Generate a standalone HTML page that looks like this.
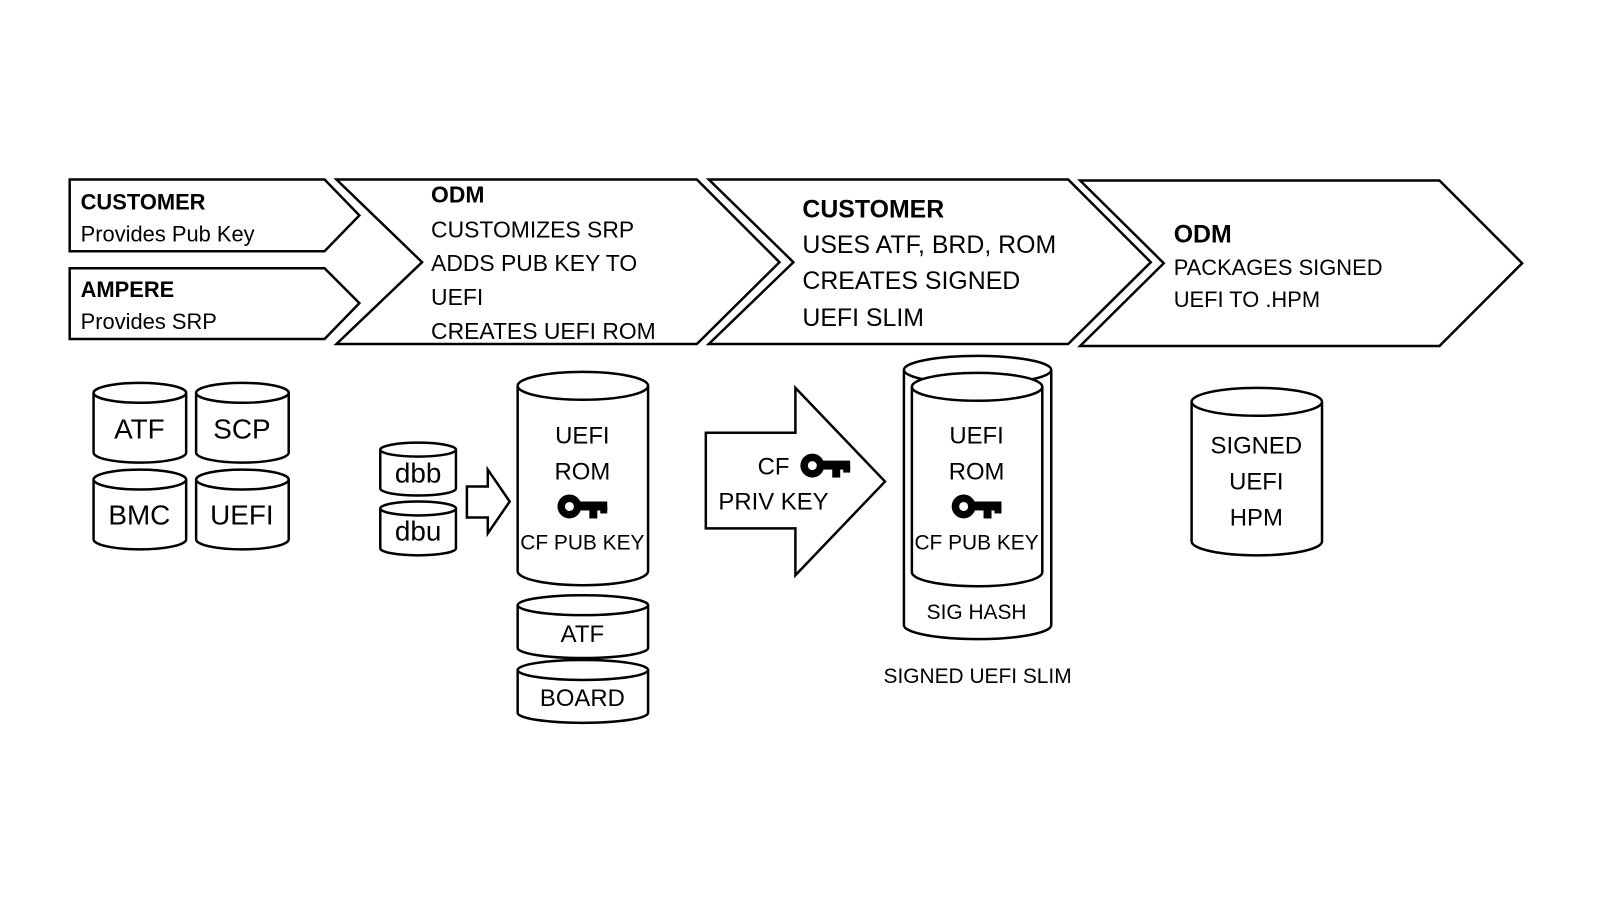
<!DOCTYPE html>
<html><head><meta charset="utf-8"><style>
html,body{margin:0;padding:0;background:#fff;}
svg{display:block;}
text{font-family:"Liberation Sans",sans-serif;fill:#000;}
</style></head><body>
<svg width="1600" height="900" viewBox="0 0 1600 900" xmlns="http://www.w3.org/2000/svg">
<defs>
<g id="key">
  <circle cx="0" cy="0" r="12" fill="#000"/>
  <circle cx="0" cy="0" r="4.5" fill="#fff"/>
  <rect x="8" y="-5" width="30" height="9" fill="#000"/>
  <rect x="20" y="0" width="8" height="12" fill="#000"/>
  <rect x="31" y="0" width="7" height="7" fill="#000"/>
</g>
</defs>
<g transform="scale(0.9955 0.997)">
<g fill="#fff" stroke="#000" stroke-width="2.5" stroke-linejoin="miter">
  <polygon points="70,180 326,180 361,216 326,252 70,252"/>
  <polygon points="70,269 326,269 361,304 326,340 70,340"/>
  <polygon points="338,180 700,180 783,263 700,345 338,345 424,263"/>
  <polygon points="712,180 1073,180 1156,263 1073,345 712,345 797,263"/>
  <polygon points="1085,181 1446,181 1529,264 1446,347 1085,347 1169,264"/>
</g>
<g font-size="22">
  <text x="81" y="210" font-weight="bold">CUSTOMER</text>
  <text x="81" y="242">Provides Pub Key</text>
  <text x="81" y="298" font-weight="bold">AMPERE</text>
  <text x="81" y="330">Provides SRP</text>
</g>
<g font-size="23">
  <text x="433" y="203" font-weight="bold">ODM</text>
  <text x="433" y="238">CUSTOMIZES SRP</text>
  <text x="433" y="272">ADDS PUB KEY TO</text>
  <text x="433" y="306">UEFI</text>
  <text x="433" y="340">CREATES UEFI ROM</text>
</g>
<g font-size="25">
  <text x="806" y="218" font-weight="bold">CUSTOMER</text>
  <text x="806" y="254">USES ATF, BRD, ROM</text>
  <text x="806" y="290">CREATES SIGNED</text>
  <text x="806" y="327">UEFI SLIM</text>
</g>
<g font-size="22">
  <text x="1179" y="243" font-size="25" font-weight="bold">ODM</text>
  <text x="1179" y="276">PACKAGES SIGNED</text>
  <text x="1179" y="308">UEFI TO .HPM</text>
</g>

<g fill="#fff" stroke="#000" stroke-width="2.5">
  <path d="M94,394 L94,454 A46.5,10 0 0 0 187,454 L187,394"/><ellipse cx="140.5" cy="394" rx="46.5" ry="10"/>
  <path d="M197,394 L197,454 A46.5,10 0 0 0 290,454 L290,394"/><ellipse cx="243.5" cy="394" rx="46.5" ry="10"/>
  <path d="M94,481 L94,541 A46.5,10 0 0 0 187,541 L187,481"/><ellipse cx="140.5" cy="481" rx="46.5" ry="10"/>
  <path d="M197,481 L197,541 A46.5,10 0 0 0 290,541 L290,481"/><ellipse cx="243.5" cy="481" rx="46.5" ry="10"/>
  <path d="M382,451 L382,490 A38,7 0 0 0 458,490 L458,451"/><ellipse cx="420" cy="451" rx="38" ry="7"/>
  <path d="M382,510 L382,550 A38,7 0 0 0 458,550 L458,510"/><ellipse cx="420" cy="510" rx="38" ry="7"/>
  <polygon points="469,488 490,488 490,471 512,503 490,535 490,519 469,519"/>
  <path d="M520,387 L520,573 A65.5,14 0 0 0 651,573 L651,387"/><ellipse cx="585.5" cy="387" rx="65.5" ry="14"/>
  <path d="M520,607 L520,650 A65.5,10 0 0 0 651,650 L651,607"/><ellipse cx="585.5" cy="607" rx="65.5" ry="10"/>
  <path d="M520,672 L520,715 A65.5,10 0 0 0 651,715 L651,672"/><ellipse cx="585.5" cy="672" rx="65.5" ry="10"/>
  <polygon points="709,434 799,434 799,389 889,483 799,577 799,530 709,530"/>
  <path d="M908,371 L908,627 A74,14 0 0 0 1056,627 L1056,371"/><ellipse cx="982" cy="371" rx="74" ry="14"/>
  <path d="M916,388 L916,574 A65.5,14 0 0 0 1047,574 L1047,388"/><ellipse cx="981.5" cy="388" rx="65.5" ry="14"/>
  <path d="M1197,403 L1197,543 A65.5,14 0 0 0 1328,543 L1328,403"/><ellipse cx="1262.5" cy="403" rx="65.5" ry="14"/>
</g>
<g font-size="28" text-anchor="middle">
  <text x="140" y="440">ATF</text>
  <text x="243" y="440">SCP</text>
  <text x="140" y="526">BMC</text>
  <text x="243" y="526">UEFI</text>
  <text x="420" y="484">dbb</text>
  <text x="420" y="542">dbu</text>
</g>
<g font-size="24" text-anchor="middle">
  <text x="585" y="445">UEFI</text>
  <text x="585" y="481">ROM</text>
  <text x="585" y="551" font-size="21">CF PUB KEY</text>
  <text x="585" y="644">ATF</text>
  <text x="585" y="708">BOARD</text>
  <text x="981" y="445">UEFI</text>
  <text x="981" y="481">ROM</text>
  <text x="981" y="551" font-size="21">CF PUB KEY</text>
  <text x="981" y="621" font-size="21">SIG HASH</text>
  <text x="982" y="685" font-size="21">SIGNED UEFI SLIM</text>
  <text x="1262" y="455">SIGNED</text>
  <text x="1262" y="491">UEFI</text>
  <text x="1262" y="527">HPM</text>
  <text x="777" y="476">CF</text>
  <text x="777" y="511">PRIV KEY</text>
</g>
<use href="#key" x="572" y="508"/>
<use href="#key" x="968" y="508"/>
<use href="#key" x="816" y="467"/>
</g>
</svg>
</body></html>
